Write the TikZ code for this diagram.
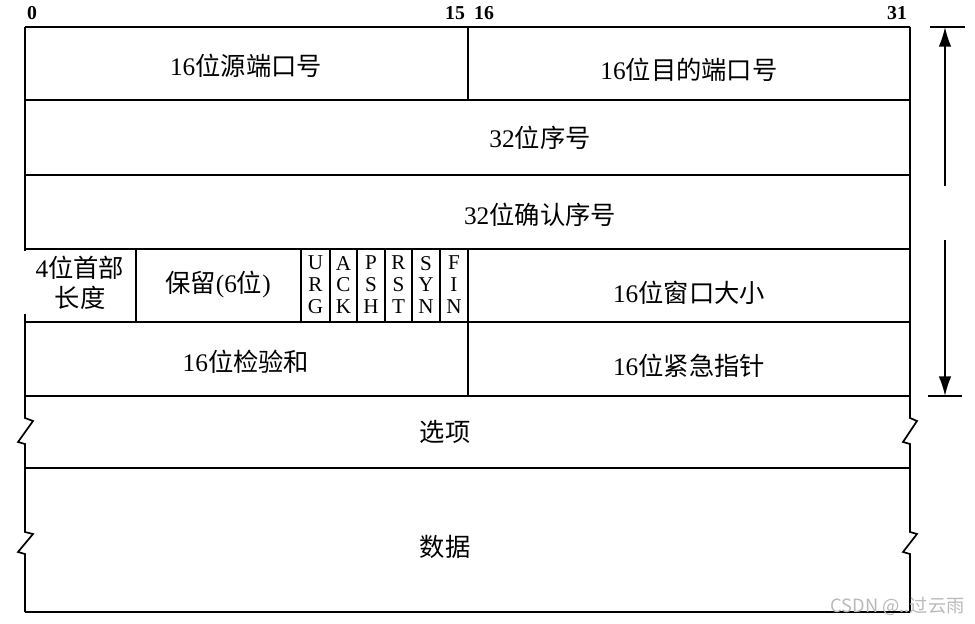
\documentclass[tikz,border=0pt]{standalone}
\usepackage{fontspec}
\setmainfont{Liberation Serif}
\newfontfamily\cjk{Noto Sans CJK SC}
\usetikzlibrary{arrows.meta}
\tikzset{
  frame/.style={line width=1.2pt, line join=miter},
  field/.style={font=\fontsize{18}{21}\selectfont, align=center, inner sep=0pt},
  flagtext/.style={font=\fontsize{15}{15.6}\selectfont, align=center, inner sep=0pt},
  bitno/.style={font=\fontsize{14}{16}\selectfont\bfseries, inner sep=0pt},
  span/.style={line width=1.2pt, -{Latex[length=14pt,width=9pt]}}
}
\begin{document}
\begin{tikzpicture}[x=0.025cm, y=-0.025cm]
\useasboundingbox (0,0) rectangle (975,624);
% bit numbers
\node[bitno] (b0) at (32,13) {0};
\node[bitno] (b15) at (455,13) {15};
\node[bitno] (b16) at (484,13) {16};
\node[bitno] (b31) at (897,13) {31};
% rows
\foreach \y in {27,100,175,249,322,396,468,612}
  \draw[frame] (25,\y) -- (910,\y);
% outer borders with breaks
\draw[frame] (25,27) -- (25,251);
\draw[frame] (25,314) -- (25,418) -- (33,421) -- (18,442) -- (25,444) -- (25,532) -- (33,534) -- (18,552) -- (25,554) -- (25,612);
\draw[frame] (910,27) -- (910,418) -- (917,421) -- (903,442) -- (910,444) -- (910,532) -- (917,534) -- (903,552) -- (910,554) -- (910,612);
% inner dividers
\draw[frame] (468,27) -- (468,100);
\draw[frame] (468,249) -- (468,396);
\draw[frame] (136,249) -- (136,322);
\foreach \x in {301,330,357,385,412,440}
  \draw[frame] (\x,249) -- (\x,322);
% fields
\node[field] (srcport) at (246,66) {16{\cjk 位源端口号}};
\node[field] (dstport) at (689,70) {16{\cjk 位目的端口号}};
\node[field] (seq) at (540,138) {32{\cjk 位序号}};
\node[field] (ack) at (540,215) {32{\cjk 位确认序号}};
\node[field] (hlen) at (80,283) {4{\cjk 位首部}\\{\cjk 长度}};
\node[field] (resv) at (218,284) {{\cjk 保留}(6{\cjk 位})};
\node[field] (window) at (689,293) {16{\cjk 位窗口大小}};
\node[field] (cksum) at (246,362) {16{\cjk 位检验和}};
\node[field] (urgptr) at (689,366) {16{\cjk 位紧急指针}};
\node[field] (opts) at (445,432) {{\cjk 选项}};
\node[field] (data) at (445,547) {{\cjk 数据}};
% flags
\foreach \x/\t/\n in {315.5/U\\R\\G/urg,343.5/A\\C\\K/ack,371/P\\S\\H/psh,398.5/R\\S\\T/rst,426/S\\Y\\N/syn,454/F\\I\\N/fin}
  \node[flagtext] (flag\n) at (\x,285) {\t};
% header span arrows
\coordinate (toptick) at (945,27);
\coordinate (upfrom) at (945,186);
\coordinate (downfrom) at (945,240);
\coordinate (bottick) at (945,396);
\draw[frame] (930,27) -- (965,27);
\draw[frame] (928,396) -- (962,396);
\draw[span] (upfrom) -- (toptick);
\draw[span] (downfrom) -- (bottick);
% watermark
\node[font=\cjk\fontsize{13}{15}\selectfont, text=gray!55, anchor=east, inner sep=0pt] (mark) at (965,606) {CSDN @..过云雨};
\end{tikzpicture}
\end{document}
